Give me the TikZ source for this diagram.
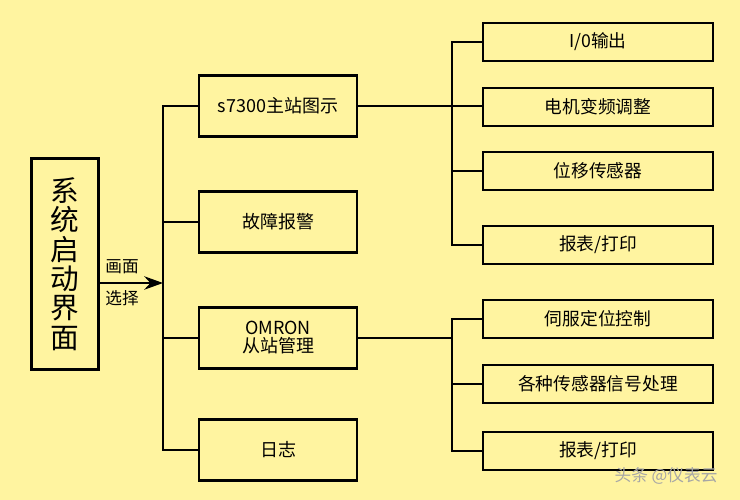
\documentclass[tikz,border=0pt]{standalone}
\usepackage{fontspec}
\setmainfont{Noto Sans CJK SC}
\usetikzlibrary{arrows.meta,positioning}
\definecolor{paper}{RGB}{255,244,160}
\tikzset{
  mainbox/.style={rectangle, draw=black, fill=paper, line width=2pt, minimum width=50pt, minimum height=158pt, font=\fontsize{21.5}{22}\selectfont, align=center, inner sep=0pt},
  midbox/.style={rectangle, draw=black, fill=paper, line width=2pt, minimum width=118.5pt, minimum height=45.75pt, font=\fontsize{13.5}{13.5}\selectfont, align=center, inner sep=2pt},
  subbox/.style={rectangle, draw=black, fill=paper, line width=2pt, minimum width=172.5pt, minimum height=28.5pt, font=\fontsize{13.3}{15}\selectfont, align=center, inner sep=2pt},
  link/.style={line width=2pt},
  larrow/.style={link, -{Stealth[length=14pt, width=10pt]}}
}

\begin{document}
\begin{tikzpicture}[x=0.75pt, y=-0.75pt]
\fill[paper] (0,0) rectangle (740,500);
\useasboundingbox (0,0) rectangle (740,500);
% start screen
\node[mainbox] (start) at (65,264) {系\\统\\启\\动\\界\\面};
\coordinate (lbus) at (163,283);
\coordinate (rbus) at (452,0);
% level 1
\node[midbox] (s7300) at (278,106) {s7300主站图示};
\node[midbox] (fault) at (278,222) {故障报警};
\node[midbox] (omron) at (278,338) {OMRON\\从站管理};
\node[midbox] (log) at (278,450) {日志};
% level 2
\node[subbox] (io) at (598,42) {I/0输出};
\node[subbox] (motor) at (598,107) {电机变频调整};
\node[subbox] (disp) at (598,171) {位移传感器};
\node[subbox] (print1) at (598,245) {报表/打印};
\node[subbox] (servo) at (598,319) {伺服定位控制};
\node[subbox] (sensor) at (598,384) {各种传感器信号处理};
\node[subbox] (print2) at (598,451) {报表/打印};
% labels
\node[font=\fontsize{12.5}{14}\selectfont] (lab1) at (122,267) {画面};
\node[font=\fontsize{12.5}{14}\selectfont] (lab2) at (122,298) {选择};
\node[font=\fontsize{12.5}{14}\selectfont, text=gray!70!white] (mark) at (666,476) {头条 @仪表云};
% connectors
\draw[larrow] (start.east |- lbus) -- (lbus);
\draw[link] (s7300.west) -| (lbus) |- (log.west);
\draw[link] (fault.west) -- (fault.west -| lbus);
\draw[link] (omron.west) -- (omron.west -| lbus);
\draw[link] (s7300.east) -- (s7300.east -| motor.west);
\draw[link] (io.west) -- (io.west -| rbus) -- (print1.west -| rbus) -- (print1.west);
\draw[link] (disp.west) -- (disp.west -| rbus);
\draw[link] (omron.east) -- (omron.east -| rbus);
\draw[link] (servo.west) -- (servo.west -| rbus) -- (print2.west -| rbus) -- (print2.west);
\draw[link] (sensor.west) -- (sensor.west -| rbus);
\end{tikzpicture}
\end{document}
